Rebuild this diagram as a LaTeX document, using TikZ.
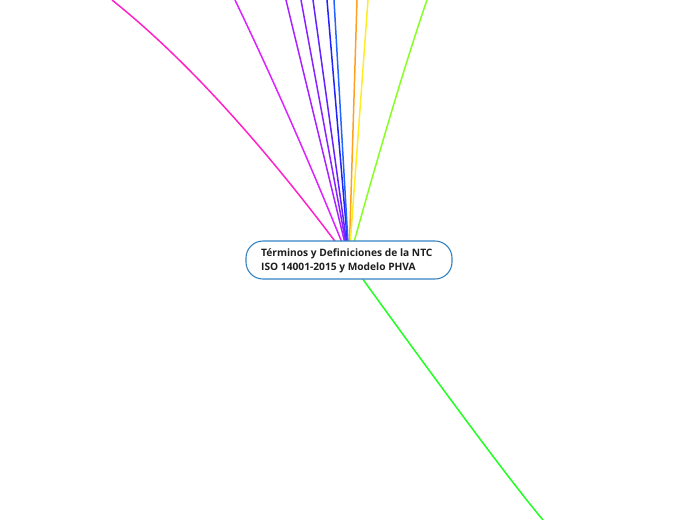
\documentclass[tikz,border=0pt]{standalone}
\usepackage{fontspec}
\setmainfont{Open Sans}
\usetikzlibrary{backgrounds}
\definecolor{cPink}{RGB}{255,34,200}
\definecolor{cMag}{RGB}{220,34,255}
\definecolor{cPur}{RGB}{170,34,255}
\definecolor{cVio}{RGB}{136,34,255}
\definecolor{cInd}{RGB}{100,34,255}
\definecolor{cBlu}{RGB}{34,34,255}
\definecolor{cAzu}{RGB}{34,100,255}
\definecolor{cOra}{RGB}{255,160,34}
\definecolor{cYel}{RGB}{255,236,34}
\definecolor{cLim}{RGB}{136,255,34}
\definecolor{cGrn}{RGB}{34,255,34}
\definecolor{cBorder}{RGB}{52,132,196}
\definecolor{cText}{RGB}{30,30,30}
\begin{document}
\begin{tikzpicture}[x=1pt,y=-1pt,
  branch/.style={line width=1.5pt},
  topic/.style={draw=cBorder, line width=1.1pt, fill=white, rounded corners=17pt,
    minimum width=206pt, minimum height=38pt, inner sep=0pt},
  topiclabel/.style={anchor=west, inner sep=0pt, align=left, text=cText,
    font=\fontsize{10.2}{14}\selectfont\bfseries}]
\useasboundingbox (0,0) rectangle (697,520);
\node[topic] (main) at (349,260) {};
\node[topiclabel] (label) at (261,261) {Términos y Definiciones de la NTC\\ISO 14001-2015 y Modelo PHVA};
\coordinate (ePink) at (112,0);
\coordinate (eMag) at (235,0);
\coordinate (ePur) at (286,0);
\coordinate (eVio) at (301,0);
\coordinate (eInd) at (313,0);
\coordinate (eBlu) at (327,0);
\coordinate (eAzu) at (334,0);
\coordinate (eOra) at (357,0);
\coordinate (eYel) at (368,0);
\coordinate (eLim) at (427,0);
\coordinate (eGrn) at (543,520);
\begin{scope}[on background layer]
\draw[branch, cPink] (main.center) .. controls (263.7,144.7) and (184.7,58) .. (ePink);
\draw[branch, cMag] (main.center) .. controls (313,170) and (275,83.3) .. (eMag);
\draw[branch, cPur] (main.center) -- (ePur);
\draw[branch, cVio] (main.center) -- (eVio);
\draw[branch, cInd] (main.center) -- (eInd);
\draw[branch, cBlu] (main.center) -- (eBlu);
\draw[branch, cAzu] (main.center) -- (eAzu);
\draw[branch, cOra] (main.center) -- (eOra);
\draw[branch, cYel] (main.center) -- (eYel);
\draw[branch, cLim] (main.center) .. controls (381,144.7) and (407,58) .. (eLim);
\draw[branch, cGrn] (main.center) .. controls (449,398.7) and (513.7,485.3) .. (eGrn);
\end{scope}
\end{tikzpicture}
\end{document}
